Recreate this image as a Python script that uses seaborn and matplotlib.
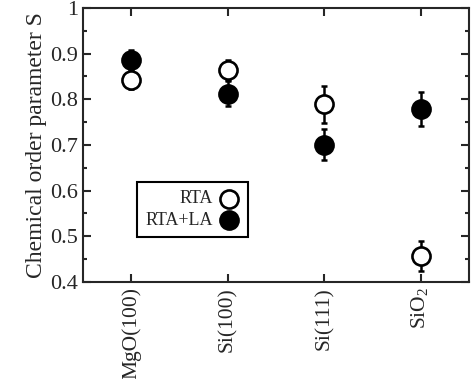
import matplotlib
matplotlib.use('Agg')
import matplotlib.pyplot as plt
import seaborn as sns
import pandas as pd
from matplotlib.ticker import MultipleLocator

substrates = ['MgO(100)', 'Si(100)', 'Si(111)', 'SiO$_2$']
rta = [0.843, 0.864, 0.789, 0.456]
rta_err = [0.020, 0.022, 0.041, 0.033]
rta_la = [0.887, 0.812, 0.701, 0.779]
rta_la_err = [0.020, 0.027, 0.034, 0.037]

sns.set_style('ticks')
plt.rcParams['font.family'] = 'serif'
plt.rcParams['font.serif'] = ['Liberation Serif']
plt.rcParams['mathtext.fontset'] = 'custom'
plt.rcParams['mathtext.rm'] = 'Liberation Serif'

df = pd.DataFrame({
    'substrate': substrates * 2,
    'S': rta + rta_la,
    'err': rta_err + rta_la_err,
    'method': ['RTA'] * 4 + ['RTA+LA'] * 4,
})

fig = plt.figure(figsize=(4.74, 3.79), dpi=100)
ax = fig.add_axes([0.175, 0.256, 0.814, 0.723])

for method, face in [('RTA', 'white'), ('RTA+LA', 'black')]:
    sub = df[df['method'] == method]
    ax.errorbar(sub['substrate'], sub['S'], yerr=sub['err'], fmt='none',
                ecolor='black', elinewidth=1.8, capsize=2.5, capthick=1.8, zorder=2)
    sns.scatterplot(data=sub, x='substrate', y='S', ax=ax, color=face,
                    edgecolor='black', linewidth=1.9, s=170, label=method, zorder=3)

ax.set_xlim(-0.5, 3.5)
ax.set_ylim(0.4, 1.0)
ax.yaxis.set_minor_locator(MultipleLocator(0.05))
ax.set_yticks([0.4, 0.5, 0.6, 0.7, 0.8, 0.9, 1.0])
ax.set_yticklabels(['0.4', '0.5', '0.6', '0.7', '0.8', '0.9', '1'])
ax.tick_params(which='both', direction='in', top=True, right=True, width=1.5)
ax.tick_params(which='major', length=6, labelsize=16)
ax.tick_params(which='minor', length=3)
ax.tick_params(axis='x', rotation=90, labelsize=15.5)
for s in ax.spines.values():
    s.set_linewidth(1.5)
ax.set_xlabel('')
ax.set_ylabel('Chemical order parameter S', fontsize=17, labelpad=2)

leg = ax.legend(loc='lower left', bbox_to_anchor=(0.14, 0.164), borderaxespad=0,
                markerfirst=False, fancybox=False, framealpha=1, edgecolor='black',
                fontsize=13, handletextpad=0.3, borderpad=0.45, labelspacing=0.25,
                handlelength=1.2, alignment='right')
leg.get_frame().set_linewidth(1.5)
for t in leg.get_texts():
    t.set_ha('right')

fig.savefig('out.png', dpi=100)
